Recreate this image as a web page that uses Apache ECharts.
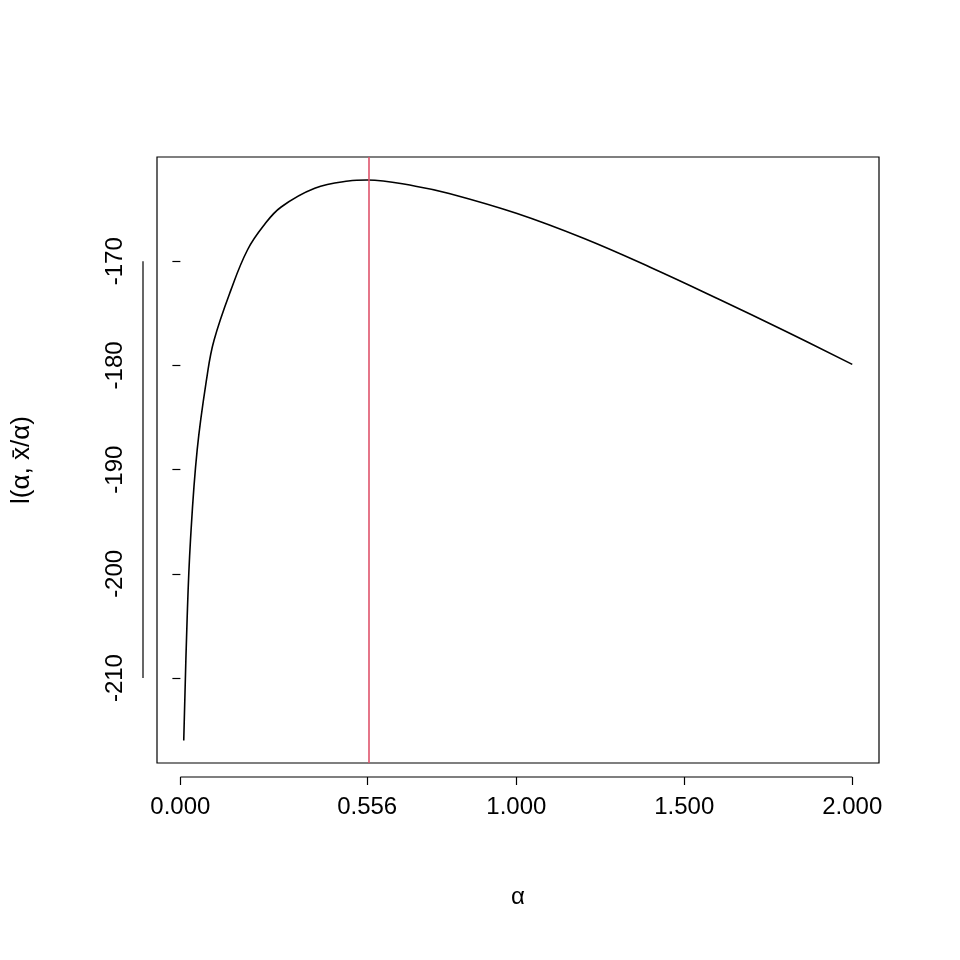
<!DOCTYPE html><html><head><meta charset="utf-8">
<script src="https://cdn.jsdelivr.net/npm/echarts@6/dist/echarts.min.js"></script>
<style>html,body{margin:0;background:#fff}#c{width:960px;height:960px}</style></head><body><div id="c"></div>
<script>
const alphaVals=[0.01,0.02,0.03,0.05,0.08,0.1,0.15,0.2,0.25,0.3,0.4,0.5,0.556,0.7,0.8,1.0,1.2,1.4,1.6,1.8,2.0];
const llVals=[-216.0,-204.4,-196.8,-188.1,-180.9,-177.6,-172.8,-168.9,-166.5,-164.8,-163.0,-162.3,-162.2,-162.8,-163.5,-165.4,-167.8,-170.6,-173.6,-176.7,-179.9];
const xTicks=[0,0.556,1,1.5,2];
const yTicks=[-210,-200,-190,-180,-170];
const mle=0.556;
const f='Liberation Sans, Arial, sans-serif';
const chart=echarts.init(document.getElementById('c'));
chart.setOption({animation:false,
grid:{left:157,right:81,top:157,bottom:197,show:true,borderColor:'#000',borderWidth:1.2},
xAxis:{type:'value',min:-0.0696,max:2.0796,offset:14,name:'α',nameLocation:'middle',nameGap:108,
 nameTextStyle:{fontFamily:f,fontSize:24,color:'#000'},splitLine:{show:false},axisLine:{show:false},
 axisTick:{show:true,length:8,customValues:xTicks,lineStyle:{color:'#000',width:1.2}},
 axisLabel:{customValues:xTicks,formatter:v=>v.toFixed(3),fontFamily:f,fontSize:24,color:'#000',margin:18}},
yAxis:{type:'value',min:-218.15,max:-160,offset:14,name:'l(α, x̄/α)',nameLocation:'middle',nameGap:108,
 nameTextStyle:{fontFamily:f,fontSize:26,color:'#000'},splitLine:{show:false},axisLine:{show:false},
 axisTick:{show:true,length:8,customValues:yTicks,lineStyle:{color:'#000',width:1.2}},
 axisLabel:{customValues:yTicks,rotate:90,fontFamily:f,fontSize:24,color:'#000',margin:16}},
series:[{type:'line',data:alphaVals.map((a,i)=>[a,llVals[i]]),smooth:0.4,showSymbol:false,lineStyle:{color:'#000',width:1.6},
 markLine:{silent:true,symbol:'none',label:{show:false},lineStyle:{color:'#DF536B',type:'solid',width:1.6},data:[{xAxis:mle}]}}]
});
const p0=chart.convertToPixel({gridIndex:0},[xTicks[0],yTicks[0]]);
const p1=chart.convertToPixel({gridIndex:0},[xTicks[xTicks.length-1],yTicks[yTicks.length-1]]);
chart.setOption({graphic:[
 {type:'line',shape:{x1:p0[0],y1:777,x2:p1[0],y2:777},style:{stroke:'#000',lineWidth:1.2}},
 {type:'line',shape:{x1:143,y1:p0[1],x2:143,y2:p1[1]},style:{stroke:'#000',lineWidth:1.2}}]});
</script></body></html>
